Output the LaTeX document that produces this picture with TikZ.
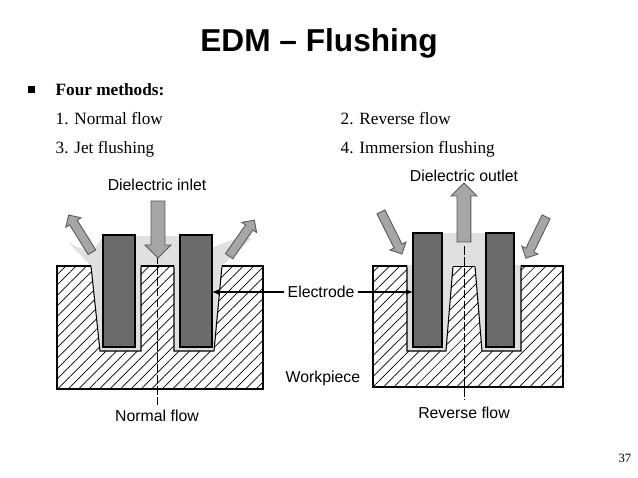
\documentclass[tikz,border=0pt]{standalone}
\usepackage{fontspec}
\setmainfont{Liberation Serif}
\setsansfont{Liberation Sans}
\usetikzlibrary{patterns.meta,shapes.arrows,arrows.meta}
\begin{document}
\begin{tikzpicture}[x=0.01cm,y=-0.01cm,
  lbl/.style={font=\sffamily\fontsize{4.5pt}{5.4pt}\selectfont,inner sep=0pt},
  body/.style={font=\fontsize{4.9pt}{5.8pt}\selectfont,inner sep=0pt,anchor=west},
  hatch/.style={pattern={Lines[angle=45,distance=2.1pt,line width=0.2pt]},draw=black,line width=0.3pt},
  cav/.style={fill=black!12,draw=black,line width=0.3pt},
  elec/.style={fill=black!58,draw=black,line width=0.3pt},
  farrow/.style={single arrow,fill=black!35,draw=black!65,line width=0.25pt,inner sep=0.065cm,single arrow head extend=0.06cm,minimum size=0},
  sarrow/.style={single arrow,fill=black!35,draw=black!65,line width=0.25pt,inner sep=0.04cm,single arrow head extend=0.045cm,minimum size=0},
  cl/.style={line width=0.25pt,dash pattern=on 2.5pt off 0.6pt}]
\useasboundingbox (0,0) rectangle (638,478);
\node[font=\sffamily\bfseries\fontsize{9pt}{10pt}\selectfont] (title) at (319,43) {EDM – Flushing};
\fill (28,86) rectangle (35,93);
\node[body,font=\bfseries\fontsize{4.9pt}{5.8pt}\selectfont] (fm) at (55,90) {Four methods:};
\node[body] (m1) at (55,119) {1. Normal flow};
\node[body] (m2) at (340,119) {2. Reverse flow};
\node[body] (m3) at (55,149) {3. Jet flushing};
\node[body] (m4) at (340,149) {4. Immersion flushing};
\node[font=\fontsize{3.6pt}{4pt}\selectfont] (pg) at (625,458) {37};
% ---- left figure
\fill[black!12] (68,242) .. controls (80,250) and (88,250) .. (95,248) -- (103,236) -- (212,236) -- (212,248) .. controls (230,240) and (240,236) .. (252,238) -- (222,266) -- (91,266) -- cycle;
\draw[hatch] (57,266) rectangle (263,389);
\draw[cav] (91,266) -- (100,351) -- (141,351) -- (141,266);
\draw[cav] (174,266) -- (174,351) -- (214,351) -- (222,266);
\fill[black!12] (91.3,265) rectangle (140.7,267) (174.3,265) rectangle (221.7,267);
\draw[elec] (103,235) rectangle (135,347);
\draw[elec] (180,235) rectangle (212,347) coordinate (le);
\draw[cl] (157,255) -- (157,405);
\node[farrow,minimum height=0.57cm,rotate=-90] (ain) at (158,226) {};
\node[sarrow,minimum height=0.44cm,rotate=122] (al) at (81.5,235.5) {};
\node[sarrow,minimum height=0.44cm,rotate=55] (ar) at (240.5,240) {};
\node[lbl] (din) at (157,185) {Dielectric inlet};
\node[lbl] (nf) at (157,416) {Normal flow};
% ---- right figure
\draw[hatch] (373,266) rectangle (563,387);
\fill[black!12] (442,233) rectangle (486,266);
\draw[cav] (407,266) -- (407,351) -- (446,351) -- (453,266);
\draw[cav] (475,266) -- (482,351) -- (521,351) -- (521,266);
\fill[black!12] (407.3,265) rectangle (452.7,267) (475.3,265) rectangle (520.7,267);
\draw[elec] (413,233) rectangle (442,347);
\draw[elec] (486,233) rectangle (514,347);
\draw[cl] (464,246) -- (464,400);
\node[farrow,minimum height=0.59cm,rotate=90] (aout) at (464,216) {};
\node[sarrow,minimum height=0.47cm,rotate=-63.4] (bl) at (390.5,231) {};
\node[sarrow,minimum height=0.46cm,rotate=-116] (br) at (537,235.5) {};
\node[lbl] (dout) at (464,176) {Dielectric outlet};
\node[lbl] (rf) at (464,413) {Reverse flow};
% ---- labels
\node[lbl,anchor=west] (el) at (287,292) {Electrode};
\coordinate (t1) at (212,292);
\coordinate (t2) at (413,292);
\draw[line width=0.3pt,-{Latex[length=2pt,width=1.6pt]}] (el.west) ++(-3,0) -- (t1);
\draw[line width=0.3pt,-{Latex[length=2pt,width=1.6pt]}] (el.east) ++(3,0) -- (t2);
\node[lbl,anchor=west] (wp) at (285,378) {Workpiece};
\end{tikzpicture}
\end{document}
